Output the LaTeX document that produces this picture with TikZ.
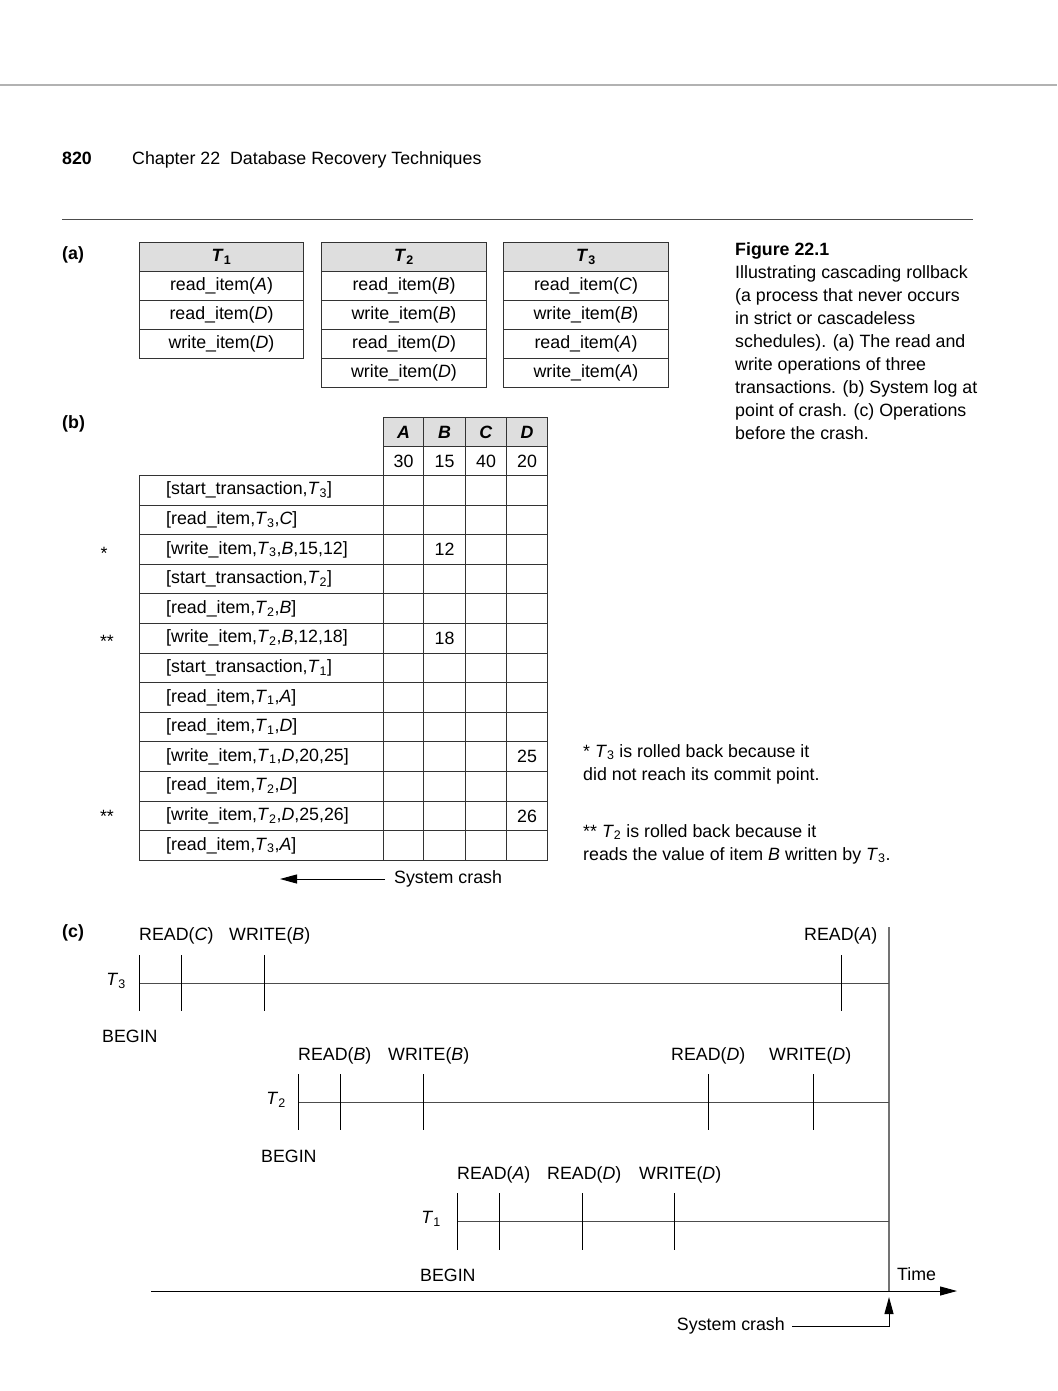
\documentclass[tikz,border=0pt]{standalone}
\usepackage{fontspec}
\setmainfont{Liberation Sans}
\usetikzlibrary{arrows.meta}
\newcommand{\Tsub}[1]{\textit{T}\textsubscript{#1}}
\newcommand{\BTsub}[1]{\textbf{\textit{T}\textsubscript{#1}}}
\begin{document}
\begin{tikzpicture}[x=1pt,y=-1pt,
  every node/.style={font=\fontsize{17.8}{23.1}\selectfont, inner sep=0pt},
  cellbox/.style={draw=black!80, line width=1pt, minimum width=#1, minimum height=29pt, anchor=north west},
  headfill/.style={fill=black!13},
  logrow/.style={draw=black!80, line width=1pt, minimum width=#1, minimum height=29.6pt, anchor=north west},
  txt/.style={anchor=base west},
  tl/.style={draw=black!70, line width=1pt},
  tick/.style={draw=black, line width=1pt},
  tip/.style={-{Triangle[length=17pt,width=9pt]}, line width=1pt, draw=black}
]
\useasboundingbox (0,0) rectangle (1057,1391);
\fill[white] (0,0) rectangle (1057,1391);

% page header
\draw[black!30, line width=2pt] (0,85) -- (1057,85);
\node[txt] (pnum) at (62,165) {\textbf{820}};
\node[txt] (chap) at (132,165) {Chapter 22\ \ Database Recovery Techniques};
\draw[black!70, line width=1pt] (62,219) -- (973,219);

% (a)
\node[txt] (la) at (62,259) {\textbf{(a)}};
% T1
\node[cellbox=164pt, headfill] (a1h) at (139,242) {\BTsub{1}};
\node[cellbox=164pt] (a11) at (139,271) {read\_item(\textit{A})};
\node[cellbox=164pt] (a12) at (139,300) {read\_item(\textit{D})};
\node[cellbox=164pt] (a13) at (139,329) {write\_item(\textit{D})};
% T2
\node[cellbox=165pt, headfill] (a2h) at (321,242) {\BTsub{2}};
\node[cellbox=165pt] (a21) at (321,271) {read\_item(\textit{B})};
\node[cellbox=165pt] (a22) at (321,300) {write\_item(\textit{B})};
\node[cellbox=165pt] (a23) at (321,329) {read\_item(\textit{D})};
\node[cellbox=165pt] (a24) at (321,358) {write\_item(\textit{D})};
% T3
\node[cellbox=165pt, headfill] (a3h) at (503,242) {\BTsub{3}};
\node[cellbox=165pt] (a31) at (503,271) {read\_item(\textit{C})};
\node[cellbox=165pt] (a32) at (503,300) {write\_item(\textit{B})};
\node[cellbox=165pt] (a33) at (503,329) {read\_item(\textit{A})};
\node[cellbox=165pt] (a34) at (503,358) {write\_item(\textit{A})};

% caption
\node[anchor=north west, align=left] (cap) at (735,242) {\textbf{Figure 22.1}\\
Illustrating cascading rollback\\
(a process that never occurs\\
in strict or cascadeless\\
schedules). (a) The read and\\
write operations of three\\
transactions. (b) System log at\\
point of crash. (c) Operations\\
before the crash.};

% (b)
\node[txt] (lb) at (62,428) {\textbf{(b)}};
\node[cellbox=40pt, headfill] (hA) at (383,417) {\textbf{\textit{A}}};
\node[cellbox=42pt, headfill] (hB) at (423,417) {\textbf{\textit{B}}};
\node[cellbox=41pt, headfill] (hC) at (465,417) {\textbf{\textit{C}}};
\node[cellbox=41pt, headfill] (hD) at (506,417) {\textbf{\textit{D}}};
\node[cellbox=40pt] (iA) at (383,446) {30};
\node[cellbox=42pt] (iB) at (423,446) {15};
\node[cellbox=41pt] (iC) at (465,446) {40};
\node[cellbox=41pt] (iD) at (506,446) {20};

\foreach \t [count=\i] in {
  {[start\_transaction,\Tsub{3}]},
  {[read\_item,\Tsub{3},\textit{C}]},
  {[write\_item,\Tsub{3},\textit{B},15,12]},
  {[start\_transaction,\Tsub{2}]},
  {[read\_item,\Tsub{2},\textit{B}]},
  {[write\_item,\Tsub{2},\textit{B},12,18]},
  {[start\_transaction,\Tsub{1}]},
  {[read\_item,\Tsub{1},\textit{A}]},
  {[read\_item,\Tsub{1},\textit{D}]},
  {[write\_item,\Tsub{1},\textit{D},20,25]},
  {[read\_item,\Tsub{2},\textit{D}]},
  {[write\_item,\Tsub{2},\textit{D},25,26]},
  {[read\_item,\Tsub{3},\textit{A}]}} {
  \pgfmathsetmacro{\ry}{475+29.6*(\i-1)}
  \node[logrow=244pt] (lr\i) at (139,\ry) {};
  \node[anchor=west] (lt\i) at ([xshift=27pt]lr\i.west) {\t};
  \node[logrow=40pt] (v\i-1) at (383,\ry) {};
  \node[logrow=42pt] (v\i-2) at (423,\ry) {};
  \node[logrow=41pt] (v\i-3) at (465,\ry) {};
  \node[logrow=41pt] (v\i-4) at (506,\ry) {};
}
\node (n12) at (v3-2) {12};
\node (n18) at (v6-2) {18};
\node (n25) at (v10-4) {25};
\node (n26) at (v12-4) {26};
\node (s1) at (104,553) {*};
\node (s2) at (107,641) {**};
\node (s3) at (107,816) {**};

\node[anchor=west] (crb) at (394,879) {System crash};
\coordinate (crbtip) at (280,880);
\draw[tip] ([xshift=-9pt]crb.west) -- (crbtip |- crb.west);

\node[anchor=north west, align=left] (note1) at (583,744) {* \Tsub{3} is rolled back because it\\did not reach its commit point.};
\node[anchor=north west, align=left] (note2) at (583,824) {** \Tsub{2} is rolled back because it\\reads the value of item \textit{B} written by \Tsub{3}.};

% (c)
\node[txt] (lc) at (62,937) {\textbf{(c)}};
\coordinate (crtop) at (889,927);
\coordinate (crbot) at (889,1291);
\draw[black!55, line width=1.2pt] (crtop) -- (crbot);

% T3 timeline
\node[anchor=east] (T3) at (126,981) {\Tsub{3}};
\coordinate (t3s) at (139,983);
\draw[tl] (t3s) -- (t3s -| crtop);
\foreach \x in {139,181,264,841} \draw[tick] (\x,955) -- (\x,1011);
\node[txt] (r3a) at (139,940) {READ(\textit{C})};
\node[txt] (r3b) at (229,940) {WRITE(\textit{B})};
\node[txt] (r3c) at (804,940) {READ(\textit{A})};
\node[txt] (b3) at (102,1042) {BEGIN};

% T2 timeline
\node[anchor=east] (T2) at (286,1100) {\Tsub{2}};
\coordinate (t2s) at (298,1102);
\draw[tl] (t2s) -- (t2s -| crtop);
\foreach \x in {298,340,423,708,813} \draw[tick] (\x,1074) -- (\x,1130);
\node[txt] (r2a) at (298,1060) {READ(\textit{B})};
\node[txt] (r2b) at (388,1060) {WRITE(\textit{B})};
\node[txt] (r2c) at (671,1060) {READ(\textit{D})};
\node[txt] (r2d) at (769,1060) {WRITE(\textit{D})};
\node[txt] (b2) at (261,1162) {BEGIN};

% T1 timeline
\node[anchor=east] (T1) at (441,1219) {\Tsub{1}};
\coordinate (t1s) at (457,1221);
\draw[tl] (t1s) -- (t1s -| crtop);
\foreach \x in {457,499,582,674} \draw[tick] (\x,1193) -- (\x,1250);
\node[txt] (r1a) at (457,1179) {READ(\textit{A})};
\node[txt] (r1b) at (547,1179) {READ(\textit{D})};
\node[txt] (r1c) at (639,1179) {WRITE(\textit{D})};
\node[txt] (b1) at (420,1281) {BEGIN};

% time axis
\coordinate (ax0) at (151,1291);
\coordinate (ax1) at (957,1291);
\draw[tip] (ax0) -- (ax1);
\node[txt] (time) at (897,1280) {Time};

% system crash arrow (c)
\node[anchor=east] (crc) at (785,1326) {System crash};
\coordinate (crctip) at (889,1297);
\draw[tip] ([xshift=7pt]crc.east) -| (crctip);
\end{tikzpicture}
\end{document}
